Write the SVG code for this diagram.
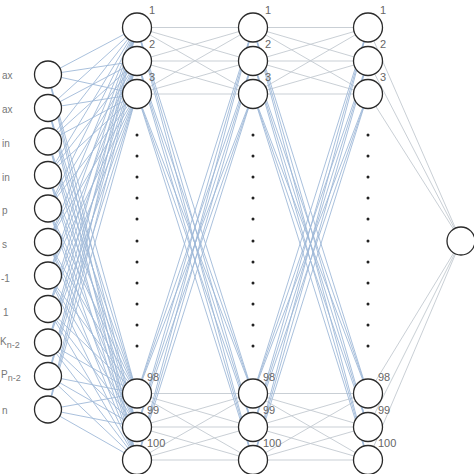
<svg xmlns="http://www.w3.org/2000/svg" width="474" height="474" viewBox="0 0 474 474">
<style>
.n{fill:#fff;stroke:#2a2a2a;stroke-width:1.3}
.e{stroke:#9fb9d8;stroke-width:0.9;fill:none}
.g{stroke:#c3c9d0;stroke-width:0.9;fill:none}
.d{fill:#222}
.lb{font-family:"Liberation Sans",Arial,sans-serif;font-size:11px;fill:#666}
.il{font-family:"Liberation Sans",Arial,sans-serif;font-size:10px;fill:#777}
</style>
<rect width="474" height="474" fill="#fff"/>
<g id="connectors">
<!-- input to hidden1 -->
<g class="e">
<path d="M48 74.5L137 27.5M48 74.5L137 61M48 74.5L137 94M48 74.5L137 393.5M48 74.5L137 427M48 74.5L137 460
M48 108L137 27.5M48 108L137 61M48 108L137 94M48 108L137 393.5M48 108L137 427M48 108L137 460
M48 141.5L137 27.5M48 141.5L137 61M48 141.5L137 94M48 141.5L137 393.5M48 141.5L137 427M48 141.5L137 460
M48 175L137 27.5M48 175L137 61M48 175L137 94M48 175L137 393.5M48 175L137 427M48 175L137 460
M48 208.5L137 27.5M48 208.5L137 61M48 208.5L137 94M48 208.5L137 393.5M48 208.5L137 427M48 208.5L137 460
M48 242L137 27.5M48 242L137 61M48 242L137 94M48 242L137 393.5M48 242L137 427M48 242L137 460
M48 275.5L137 27.5M48 275.5L137 61M48 275.5L137 94M48 275.5L137 393.5M48 275.5L137 427M48 275.5L137 460
M48 309L137 27.5M48 309L137 61M48 309L137 94M48 309L137 393.5M48 309L137 427M48 309L137 460
M48 342.5L137 27.5M48 342.5L137 61M48 342.5L137 94M48 342.5L137 393.5M48 342.5L137 427M48 342.5L137 460
M48 376L137 27.5M48 376L137 61M48 376L137 94M48 376L137 393.5M48 376L137 427M48 376L137 460
M48 409.5L137 27.5M48 409.5L137 61M48 409.5L137 94M48 409.5L137 393.5M48 409.5L137 427M48 409.5L137 460"/>
</g>
<!-- hidden1 to hidden2, hidden2 to hidden3: same-block gray -->
<g class="g">
<path d="M137 27.5L253 27.5M137 27.5L253 61M137 27.5L253 94M137 61L253 27.5M137 61L253 61M137 61L253 94M137 94L253 27.5M137 94L253 61M137 94L253 94
M137 393.5L253 393.5M137 393.5L253 427M137 393.5L253 460M137 427L253 393.5M137 427L253 427M137 427L253 460M137 460L253 393.5M137 460L253 427M137 460L253 460
M253 27.5L368 27.5M253 27.5L368 61M253 27.5L368 94M253 61L368 27.5M253 61L368 61M253 61L368 94M253 94L368 27.5M253 94L368 61M253 94L368 94
M253 393.5L368 393.5M253 393.5L368 427M253 393.5L368 460M253 427L368 393.5M253 427L368 427M253 427L368 460M253 460L368 393.5M253 460L368 427M253 460L368 460
M368 27.5L461 241M368 61L461 241M368 94L461 241M368 393.5L461 241M368 427L461 241M368 460L461 241"/>
</g>
<!-- crossing blue -->
<g class="e">
<path d="M137 27.5L253 393.5M137 27.5L253 427M137 27.5L253 460M137 61L253 393.5M137 61L253 427M137 61L253 460M137 94L253 393.5M137 94L253 427M137 94L253 460
M137 393.5L253 27.5M137 393.5L253 61M137 393.5L253 94M137 427L253 27.5M137 427L253 61M137 427L253 94M137 460L253 27.5M137 460L253 61M137 460L253 94
M253 27.5L368 393.5M253 27.5L368 427M253 27.5L368 460M253 61L368 393.5M253 61L368 427M253 61L368 460M253 94L368 393.5M253 94L368 427M253 94L368 460
M253 393.5L368 27.5M253 393.5L368 61M253 393.5L368 94M253 427L368 27.5M253 427L368 61M253 427L368 94M253 460L368 27.5M253 460L368 61M253 460L368 94"/>
</g>
</g>
<g id="inputs">
<g id="in1"><circle class="n" cx="48" cy="74.5" r="13.5"/><text class="il" x="2" y="79">ax</text></g>
<g id="in2"><circle class="n" cx="48" cy="108" r="13.5"/><text class="il" x="2" y="113">ax</text></g>
<g id="in3"><circle class="n" cx="48" cy="141.5" r="13.5"/><text class="il" x="2" y="147">in</text></g>
<g id="in4"><circle class="n" cx="48" cy="175" r="13.5"/><text class="il" x="2" y="181">in</text></g>
<g id="in5"><circle class="n" cx="48" cy="208.5" r="13.5"/><text class="il" x="2" y="214">p</text></g>
<g id="in6"><circle class="n" cx="48" cy="242" r="13.5"/><text class="il" x="2" y="248">s</text></g>
<g id="in7"><circle class="n" cx="48" cy="275.5" r="13.5"/><text class="il" x="1" y="282">-1</text></g>
<g id="in8"><circle class="n" cx="48" cy="309" r="13.5"/><text class="il" x="3" y="316">1</text></g>
<g id="in9"><circle class="n" cx="48" cy="342.5" r="13.5"/><text class="il" x="0" y="345" font-size="13">K<tspan font-size="9" dy="3">n-2</tspan></text></g>
<g id="in10"><circle class="n" cx="48" cy="376" r="13.5"/><text class="il" x="1" y="378" font-size="13">P<tspan font-size="9" dy="3">n-2</tspan></text></g>
<g id="in11"><circle class="n" cx="48" cy="409.5" r="13.5"/><text class="il" x="2" y="414">n</text></g>
</g>
<g id="hidden1">
<g id="h1_1"><circle class="n" cx="137" cy="27.5" r="14.5"/><text class="lb" x="149" y="14">1</text></g>
<g id="h1_2"><circle class="n" cx="137" cy="61" r="14.5"/><text class="lb" x="149" y="48">2</text></g>
<g id="h1_3"><circle class="n" cx="137" cy="94" r="14.5"/><text class="lb" x="149" y="81">3</text></g>
<g id="h1_98"><circle class="n" cx="137" cy="393.5" r="14.5"/><text class="lb" x="147" y="381">98</text></g>
<g id="h1_99"><circle class="n" cx="137" cy="427" r="14.5"/><text class="lb" x="147" y="414">99</text></g>
<g id="h1_100"><circle class="n" cx="137" cy="460" r="14.5"/><text class="lb" x="147" y="447">100</text></g>
</g>
<g id="hidden2">
<g id="h2_1"><circle class="n" cx="253" cy="27.5" r="14.5"/><text class="lb" x="265" y="14">1</text></g>
<g id="h2_2"><circle class="n" cx="253" cy="61" r="14.5"/><text class="lb" x="265" y="48">2</text></g>
<g id="h2_3"><circle class="n" cx="253" cy="94" r="14.5"/><text class="lb" x="265" y="81">3</text></g>
<g id="h2_98"><circle class="n" cx="253" cy="393.5" r="14.5"/><text class="lb" x="263" y="381">98</text></g>
<g id="h2_99"><circle class="n" cx="253" cy="427" r="14.5"/><text class="lb" x="263" y="414">99</text></g>
<g id="h2_100"><circle class="n" cx="253" cy="460" r="14.5"/><text class="lb" x="263" y="447">100</text></g>
</g>
<g id="hidden3">
<g id="h3_1"><circle class="n" cx="368" cy="27.5" r="14.5"/><text class="lb" x="380" y="14">1</text></g>
<g id="h3_2"><circle class="n" cx="368" cy="61" r="14.5"/><text class="lb" x="380" y="48">2</text></g>
<g id="h3_3"><circle class="n" cx="368" cy="94" r="14.5"/><text class="lb" x="380" y="81">3</text></g>
<g id="h3_98"><circle class="n" cx="368" cy="393.5" r="14.5"/><text class="lb" x="378" y="381">98</text></g>
<g id="h3_99"><circle class="n" cx="368" cy="427" r="14.5"/><text class="lb" x="378" y="414">99</text></g>
<g id="h3_100"><circle class="n" cx="368" cy="460" r="14.5"/><text class="lb" x="378" y="447">100</text></g>
</g>
<g id="output"><circle class="n" cx="461" cy="241" r="14"/></g>
<g id="dots" class="d">
<circle cx="137" cy="135" r="1.5"/><circle cx="137" cy="156" r="1.5"/><circle cx="137" cy="177" r="1.5"/><circle cx="137" cy="198" r="1.5"/><circle cx="137" cy="219" r="1.5"/><circle cx="137" cy="241" r="1.5"/><circle cx="137" cy="262" r="1.5"/><circle cx="137" cy="283" r="1.5"/><circle cx="137" cy="304" r="1.5"/><circle cx="137" cy="325" r="1.5"/><circle cx="137" cy="346" r="1.5"/>
<circle cx="253" cy="135" r="1.5"/><circle cx="253" cy="156" r="1.5"/><circle cx="253" cy="177" r="1.5"/><circle cx="253" cy="198" r="1.5"/><circle cx="253" cy="219" r="1.5"/><circle cx="253" cy="241" r="1.5"/><circle cx="253" cy="262" r="1.5"/><circle cx="253" cy="283" r="1.5"/><circle cx="253" cy="304" r="1.5"/><circle cx="253" cy="325" r="1.5"/><circle cx="253" cy="346" r="1.5"/>
<circle cx="368" cy="135" r="1.5"/><circle cx="368" cy="156" r="1.5"/><circle cx="368" cy="177" r="1.5"/><circle cx="368" cy="198" r="1.5"/><circle cx="368" cy="219" r="1.5"/><circle cx="368" cy="241" r="1.5"/><circle cx="368" cy="262" r="1.5"/><circle cx="368" cy="283" r="1.5"/><circle cx="368" cy="304" r="1.5"/><circle cx="368" cy="325" r="1.5"/><circle cx="368" cy="346" r="1.5"/>
</g>
</svg>
